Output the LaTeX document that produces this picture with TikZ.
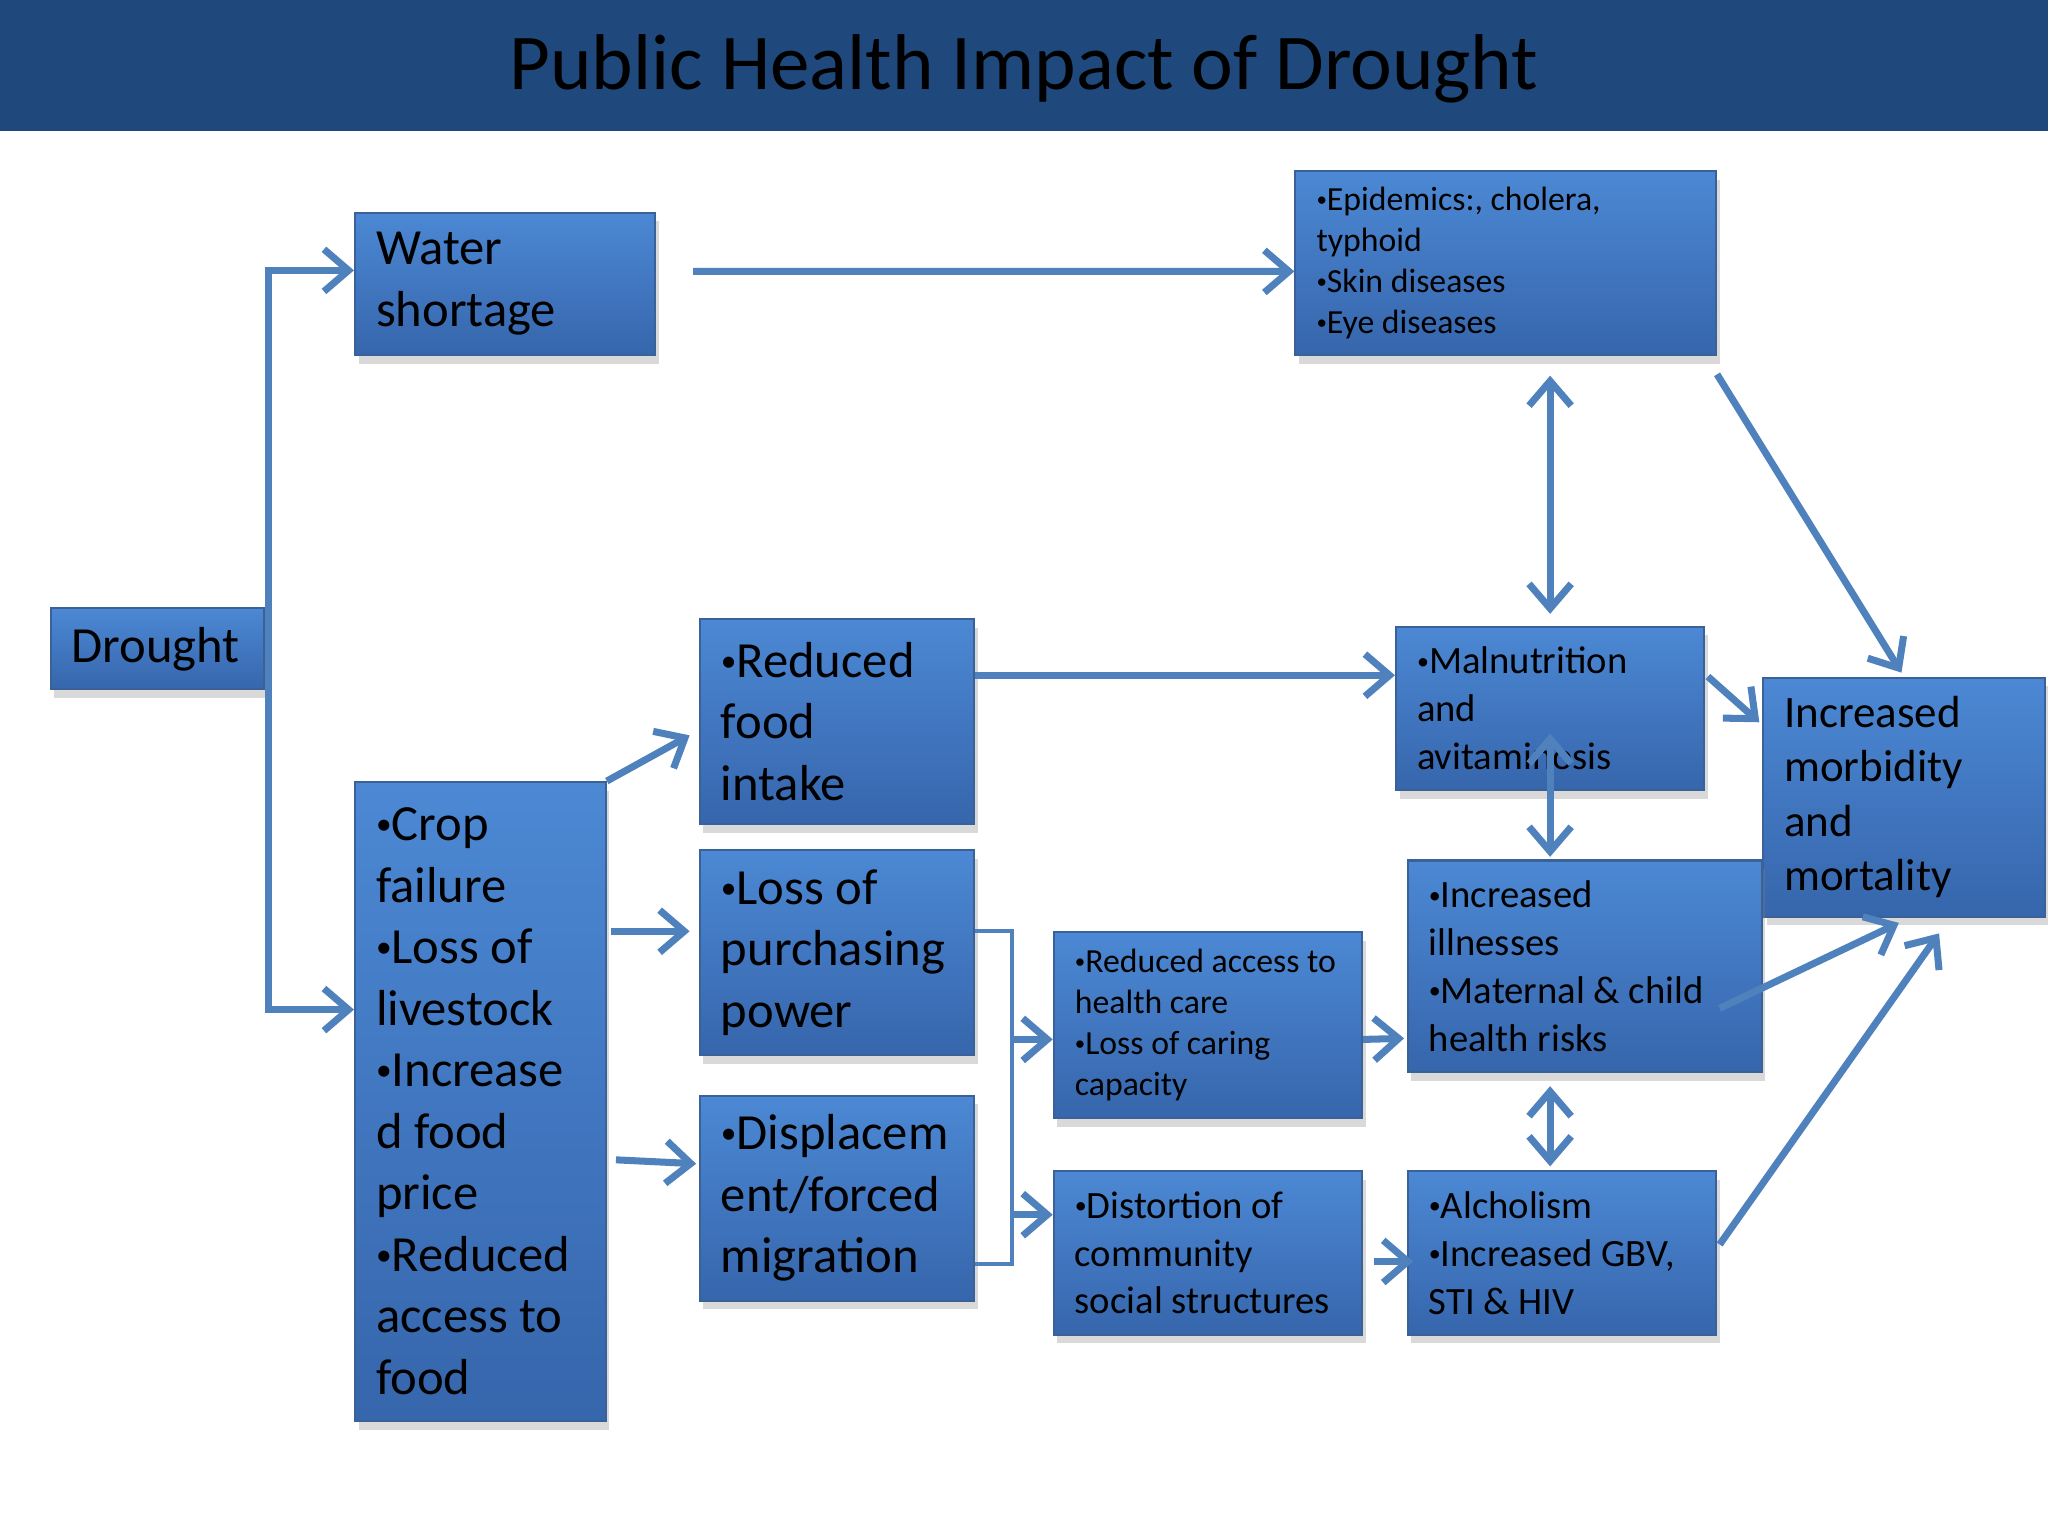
\documentclass[tikz,border=0pt]{standalone}
\usepackage{fontspec}
\setmainfont{Carlito}
\usepackage{graphicx}
\usepackage{tikz}
\usetikzlibrary{arrows.meta,calc,shadows}

\definecolor{titlebar}{RGB}{31,73,125}
\definecolor{boxtop}{RGB}{76,136,212}
\definecolor{boxbot}{RGB}{54,102,172}
\definecolor{boxedge}{RGB}{58,98,152}
\definecolor{arrowblue}{RGB}{79,129,189}

\newcommand{\px}{0.013061cm}
\newcommand{\bul}{\raisebox{0.12em}{\scalebox{0.62}{\textbullet}}}

\tikzset{
	box/.style 2 args={draw=boxedge, line width=0.6pt, top color=boxtop, bottom color=boxbot,
		anchor=north west, align=flush left, inner xsep=6pt, inner ysep=1pt,
		text width=#1*\px-12pt, minimum height=#2*\px,
		drop shadow={shadow xshift=1pt, shadow yshift=-2.5pt, opacity=0.3}},
	big/.style={font=\fontsize{14.4pt}{17.5pt}\selectfont},
	morbtext/.style={font=\fontsize{12.8pt}{15.5pt}\selectfont},
	mid/.style={font=\fontsize{11pt}{13.6pt}\selectfont},
	small/.style={font=\fontsize{9.6pt}{11.6pt}\selectfont},
	arr/.style={draw=arrowblue, line width=2pt, -{Straight Barb[length=7pt,width=12pt]}},
	arrboth/.style={draw=arrowblue, line width=2pt, {Straight Barb[length=7pt,width=12pt]}-{Straight Barb[length=7pt,width=12pt]}},
	bracket/.style={draw=arrowblue, line width=1.2pt}
}

\begin{document}
\begin{tikzpicture}[x=0.013061cm, y=-0.013061cm]
		\useasboundingbox (0,0) rectangle (1568,1176);
		
		% Title
		\fill[titlebar] (0,0) rectangle (1568,100);
		\node[font=\fontsize{22.5pt}{27pt}\selectfont] (title) at (784,53) {Public Health Impact of Drought};
		
		% Boxes
		\node[box={163}{62}, big] (drought) at (38,465) {Drought};
		\node[box={230}{109}, big] (water) at (271,162) {Water\\shortage};
		\node[box={322}{141}, small] (epid) at (991,130) {\bul Epidemics:, cholera,\\typhoid\\\bul Skin diseases\\\bul Eye diseases};
		\node[box={192}{489}, big] (crop) at (271,598) {\bul Crop\\failure\\\bul Loss of\\livestock\\\bul Increase\\d food\\price\\\bul Reduced\\access to\\food};
		\node[box={210}{157}, big] (food) at (535,473) {\bul Reduced\\food\\intake};
		\node[box={210}{157}, big] (purch) at (535,650) {\bul Loss of\\purchasing\\power};
		\node[box={210}{157}, big] (displ) at (535,838) {\bul Displacem\\ent/forced\\migration};
		\node[box={236}{125}, mid] (maln) at (1068,479) {\bul Malnutrition\\and\\avitaminosis};
		\node[box={216}{183}, morbtext] (morb) at (1349,518) {Increased\\morbidity\\and\\mortality};
		\node[box={271}{162}, mid] (ill) at (1077,658) {\bul Increased\\illnesses\\\bul Maternal \& child\\health risks};
		\node[box={236}{142}, small] (access) at (806,713) {\bul Reduced access to\\health care\\\bul Loss of caring\\capacity};
		\node[box={236}{125}, mid] (distort) at (806,896) {\bul Distortion of\\community\\social structures};
		\node[box={236}{125}, mid] (alc) at (1077,896) {\bul Alcholism\\\bul Increased GBV,\\STI \& HIV};
		
		% Drought split
		\draw[arr] ($(drought.east)+(3,0)$) |- ($(water.north west)+(0,45)$);
		\draw[arr] ($(drought.east)+(3,0)$) |- ($(crop.north west)+(0,175)$);
		
		% Upper row
		\draw[arr] ($(water.east)+(28,-9.5)$) -- ($(epid.west)+(0,6.5)$);
		\draw[arrboth] ($(maln.north)+(0,-9)$) -- ($(maln.north |- epid.south)+(0,15)$);
		\draw[arr] ($(epid.south east)+(0,14)$) -- ($(morb.north)+(-2,-3)$);
		\draw[arr] ($(food.north east)+(0,44)$) -- ($(maln.north west)+(0,38)$);
		\draw[arr] ($(maln.north east)+(2,39)$) -- ($(morb.north west)+(-2,35)$);
		\draw[arrboth] ($(maln.south)+(0,-44)$) -- ($(maln.south |- ill.north)+(0,-2)$);
		
		% From crop failure
		\draw[arr] (crop.north east) -- ($(food.north west)+(-7,90)$);
		\draw[arr] ($(crop.north east)+(3,115)$) -- ($(purch.north west)+(-7,63)$);
		\draw[arr] ($(crop.north east)+(7,290)$) -- ($(displ.north west)+(-2,53)$);
		
		% Bracket
		\draw[bracket] ($(purch.north east)+(0,63)$) -| ($(purch.north east)+(28,318)$) -- ($(displ.north east)+(0,130)$);
		\draw[arr] ($(access.west)+(-31,11)$) -- ($(access.west)+(0,11)$);
		\draw[arr] ($(distort.north west)+(-31,34)$) -- ($(distort.north west)+(0,34)$);
		
		% Lower rows
		\draw[arr] ($(access.east)+(0,11)$) -- ($(ill.north west)+(-2,137)$);
		\draw[arr] ($(distort.east)+(8,6.5)$) -- ($(alc.west)+(5,6.5)$);
		\draw[arrboth] ($(maln.south |- ill.south)+(0,10)$) -- ($(maln.south |- alc.north)+(0,-3)$);
		\draw[arr] ($(ill.north east)+(-33,114)$) -- ($(morb.south)+(-4,4)$);
		\draw[arr] ($(alc.east)+(2,-6.5)$) -- ($(morb.south east)+(-82,12)$);
	\end{tikzpicture}
\end{document}
